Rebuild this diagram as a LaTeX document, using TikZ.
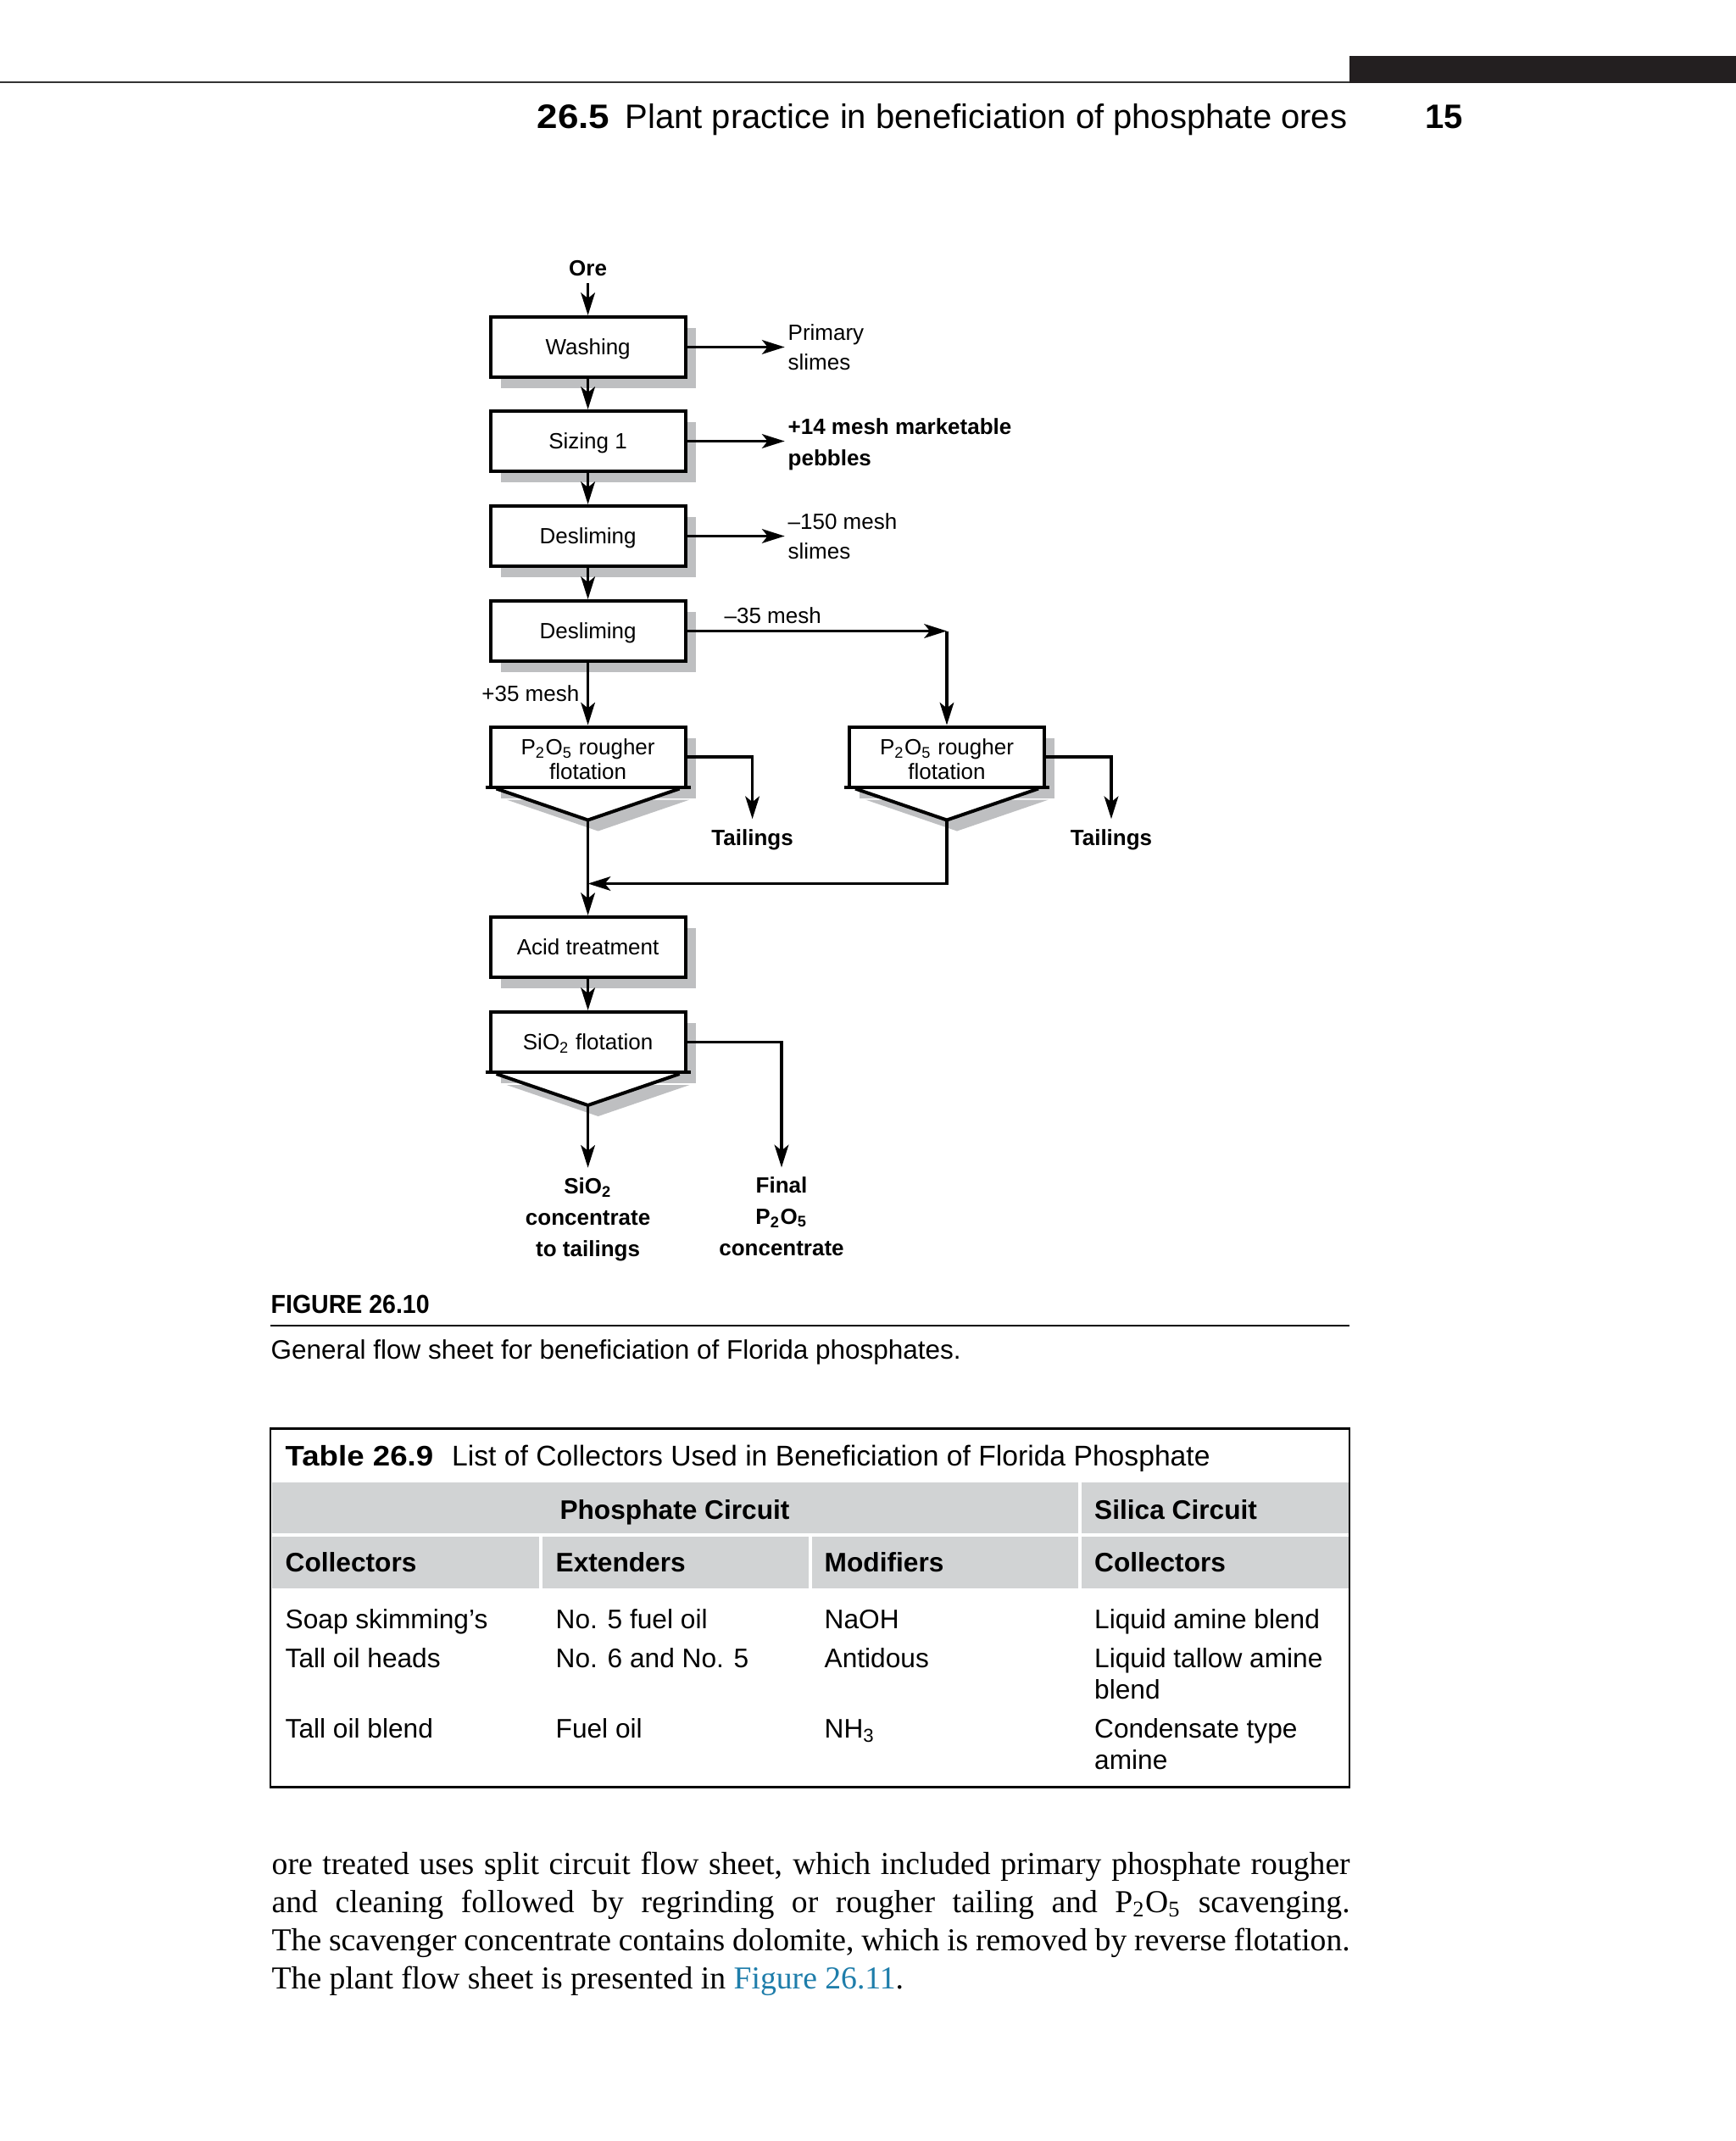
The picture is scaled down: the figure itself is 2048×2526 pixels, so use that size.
\documentclass[tikz,border=0pt]{standalone}
\usepackage{fontspec}
\setmainfont{Liberation Serif}
\setsansfont{Liberation Sans}
\newfontfamily\widesans[FakeStretch=1.1]{Liberation Sans}
\newfontfamily\condsans[FakeStretch=0.93]{Liberation Sans}
\usetikzlibrary{arrows.meta,shadows}

\definecolor{shadowgray}{RGB}{190,191,193}
\definecolor{cellgray}{RGB}{209,211,212}
\definecolor{barblack}{RGB}{35,31,32}
\definecolor{figblue}{RGB}{30,125,170}

\tikzset{%
  castshadow/.style = {drop shadow={shadow xshift=3.6pt, shadow yshift=-3.9pt,%
                       fill=shadowgray, opacity=1}},%
  unit/.style       = {draw, line width=1.2pt, fill=white, castshadow,%
                       minimum width=69pt, minimum height=21.3pt, inner sep=0pt,%
                       text depth=0pt, align=center,%
                       font=\sffamily\fontsize{7.8}{8.7}\selectfont},%
  flowline/.style   = {->, line width=1pt},%
  lbl/.style        = {inner sep=0pt, align=left,%
                       font=\sffamily\fontsize{7.8}{10.5}\selectfont},%
  blbl/.style       = {inner sep=0pt, align=center,%
                       font=\sffamily\bfseries\fontsize{7.8}{11}\selectfont},%
  cell/.style       = {inner sep=0pt, align=left,%
                       font=\sffamily\fontsize{9.5}{11.1}\selectfont},%
  headcell/.style   = {inner sep=0pt,%
                       font=\sffamily\bfseries\fontsize{9.5}{11.1}\selectfont},%
}

\begin{document}
\begin{tikzpicture}[x=0.3pt, y=-0.3pt, >={Stealth[length=8pt, width=5pt, inset=2pt]}]
\fill[white] (0,0) rectangle (2048,2526);
\useasboundingbox (0,0) rectangle (2048,2526);

% en-tete
\fill[barblack] (1592,66) rectangle (2048,98);
\draw[line width=0.6pt, black!80] (0,97) -- (1592,97);
\node[anchor=base west, inner sep=0pt,%
      font=\widesans\bfseries\fontsize{12}{14}\selectfont] (secnum) at (633,151.7) {26.5};
\node[anchor=base east, inner sep=0pt,%
      font=\sffamily\fontsize{12}{14}\selectfont] (sectitle) at (1590,151.7)%
      {Plant practice in beneficiation of phosphate ores};
\node[anchor=base west, inner sep=0pt,%
      font=\sffamily\bfseries\fontsize{12}{14}\selectfont] (pagenum) at (1681,151.7) {15};

% les boites
\node[blbl, anchor=base] (ore) at (693.6,325.6) {Ore};
\node[unit] (wash)   at (693.6, 409.5) {Washing};
\node[unit] (size)   at (693.6, 520.5) {Sizing 1};
\node[unit] (desl1)  at (693.6, 632.5) {Desliming};
\node[unit] (desl2)  at (693.6, 744.5) {Desliming};
\node[unit, text height=16.1pt] (roug1) at (693.6, 893) {P\textsubscript{2}O\textsubscript{5} rougher\\flotation};
\node[unit, text height=16.1pt] (roug2) at (1117, 893)  {P\textsubscript{2}O\textsubscript{5} rougher\\flotation};
\node[unit] (acid)   at (693.6,1117.5) {Acid treatment};
\node[unit] (silica) at (693.6,1229.5) {SiO\textsubscript{2} flotation};

% les cones
\coordinate (r1tip) at ([yshift=-11.1pt]roug1.south);
\coordinate (r2tip) at ([yshift=-11.1pt]roug2.south);
\coordinate (s3tip) at ([yshift=-11.1pt]silica.south);

\fill[white, castshadow] ([xshift=2.7pt]roug1.south west) -- (r1tip) -- ([xshift=-2.7pt]roug1.south east) -- cycle;
\draw[line width=1.2pt] ([xshift=2.7pt]roug1.south west) -- (r1tip) -- ([xshift=-2.7pt]roug1.south east);
\draw[line width=1.2pt] ([shift={(-1.2pt,0.6pt)}]roug1.south west) -- ([shift={(1.2pt,0.6pt)}]roug1.south east);

\fill[white, castshadow] ([xshift=2.7pt]roug2.south west) -- (r2tip) -- ([xshift=-2.7pt]roug2.south east) -- cycle;
\draw[line width=1.2pt] ([xshift=2.7pt]roug2.south west) -- (r2tip) -- ([xshift=-2.7pt]roug2.south east);
\draw[line width=1.2pt] ([shift={(-1.2pt,0.6pt)}]roug2.south west) -- ([shift={(1.2pt,0.6pt)}]roug2.south east);

\fill[white, castshadow] ([xshift=2.7pt]silica.south west) -- (s3tip) -- ([xshift=-2.7pt]silica.south east) -- cycle;
\draw[line width=1.2pt] ([xshift=2.7pt]silica.south west) -- (s3tip) -- ([xshift=-2.7pt]silica.south east);
\draw[line width=1.2pt] ([shift={(-1.2pt,0.6pt)}]silica.south west) -- ([shift={(1.2pt,0.6pt)}]silica.south east);

% les produits
\node[lbl, anchor=north west] (slimes1) at (929,382.4) {Primary\\slimes};
\node[blbl, align=left, anchor=north west] (pebbles) at (929,493.4) {+14 mesh marketable\\pebbles};
\node[lbl, anchor=north west] (slimes2) at (929,605) {--150 mesh\\slimes};
\node[lbl, anchor=base west] (minus35) at (854,735) {--35 mesh};
\node[lbl, anchor=base east] (plus35) at (684,827) {+35 mesh};
\node[blbl, anchor=base] (tail1) at (887.6,997.7) {Tailings};
\node[blbl, anchor=base] (tail2) at (1311,997.7) {Tailings};
\node[blbl, anchor=north] (sioconc) at (693.6,1389.4) {SiO\textsubscript{2}\\concentrate\\to tailings};
\node[blbl, anchor=north] (finalconc) at (922,1388.4) {Final\\P\textsubscript{2}O\textsubscript{5}\\concentrate};

% les fleches
\draw[flowline, shorten <=2.2pt] (ore) -- (wash);
\draw[flowline] (wash) -- (size);
\draw[flowline] (size) -- (desl1);
\draw[flowline] (desl1) -- (desl2);
\draw[flowline] (desl2) -- (roug1);
\draw[flowline] (r1tip) -- (acid);
\draw[flowline] (acid) -- (silica);
\draw[flowline, shorten >=3.5pt] (s3tip) -- (sioconc.north);

\draw[flowline, shorten >=1pt] (wash.east) -- (wash.east -| slimes1.west);
\draw[flowline, shorten >=1pt] (size.east) -- (size.east -| pebbles.west);
\draw[flowline, shorten >=1pt] (desl1.east) -- (desl1.east -| slimes2.west);

\coordinate (bend35) at (desl2.east -| roug2.north);
\draw[flowline] (desl2.east) -- (bend35);
\draw[flowline] (bend35) -- (roug2.north);

\draw[flowline, shorten >=3.6pt] (roug1.east) -| (tail1.north);
\draw[flowline, shorten >=3.6pt] (roug2.east) -| (tail2.north);

\coordinate (r2low) at ([yshift=-22.5pt]r2tip);
\draw[flowline] (r2tip) -- (r2low) -- (r2low -| r1tip);

\draw[flowline, shorten >=3.3pt] (silica.east) -| (finalconc.north);

% la legende
\node[anchor=base west, inner sep=0pt,%
      font=\condsans\bfseries\fontsize{9.2}{10}\selectfont] (figlabel) at (319,1549) {FIGURE 26.10};
\draw[line width=0.6pt] (319,1564) -- (1592,1564);
\node[anchor=base west, inner sep=0pt,%
      font=\sffamily\fontsize{9.45}{11}\selectfont] (figcaption) at (319,1603)%
      {General flow sheet for beneficiation of Florida phosphates.};

% le tableau
\fill[cellgray] (320.5,1749) rectangle (1271.5,1809);
\fill[cellgray] (1275.5,1749) rectangle (1591,1809);
\fill[cellgray] (320.5,1813) rectangle (635.6,1873.5);
\fill[cellgray] (639.6,1813) rectangle (954,1873.5);
\fill[cellgray] (958,1813) rectangle (1271.5,1873.5);
\fill[cellgray] (1275.5,1813) rectangle (1591,1873.5);
\draw[line width=0.75pt] (319,1685.5) rectangle (1592,2108.7);

\node[anchor=base west, inner sep=0pt,%
      font=\widesans\bfseries\fontsize{10}{12}\selectfont] (tabnum) at (336,1729.5) {Table 26.9};
\node[anchor=base west, inner sep=0pt,%
      font=\sffamily\fontsize{10.1}{12}\selectfont] (tabtitle) at (532.5,1729.5)%
      {List of Collectors Used in Beneficiation of Florida Phosphate};

\node[headcell, anchor=base]      (phoscirc) at (796,1792.5)    {Phosphate Circuit};
\node[headcell, anchor=base west] (silcirc)  at (1290.5,1792.5) {Silica Circuit};
\node[headcell, anchor=base west] (colhead)  at (336,1854.8)    {Collectors};
\node[headcell, anchor=base west] (exthead)  at (655,1854.8)    {Extenders};
\node[headcell, anchor=base west] (modhead)  at (972,1854.8)    {Modifiers};
\node[headcell, anchor=base west] (silhead)  at (1290.5,1854.8) {Collectors};

\node[cell, anchor=base west]  (soap)     at (336,1921)      {Soap skimming’s};
\node[cell, anchor=base west]  (fuel5)    at (655,1921)      {No. 5 fuel oil};
\node[cell, anchor=base west]  (naoh)     at (972,1921)      {NaOH};
\node[cell, anchor=base west]  (liqamine) at (1290.5,1921)   {Liquid amine blend};
\node[cell, anchor=base west]  (heads)    at (336,1967)      {Tall oil heads};
\node[cell, anchor=base west]  (fuel65)   at (655,1967)      {No. 6 and No. 5};
\node[cell, anchor=base west]  (antid)    at (972,1967)      {Antidous};
\node[cell, anchor=north west] (tallow)   at (1290.5,1944.3) {Liquid tallow amine\\blend};
\node[cell, anchor=base west]  (blend)    at (336,2050)      {Tall oil blend};
\node[cell, anchor=base west]  (fueloil)  at (655,2050)      {Fuel oil};
\node[cell, anchor=base west]  (nhthree)  at (972,2050)      {NH\textsubscript{3}};
\node[cell, anchor=north west] (condens)  at (1290.5,2027.3) {Condensate type\\amine};

% le texte
\node[anchor=north west, inner sep=0pt, text width=381.6pt, align=justify,%
      font=\rmfamily\fontsize{11.3}{13.5}\selectfont] (bodytext) at (320,2184)%
{\tolerance=10000\hyphenpenalty=10000
ore treated uses split circuit flow sheet, which included primary phosphate rougher\linebreak
and cleaning followed by regrinding or rougher tailing and P\textsubscript{2}O\textsubscript{5} scavenging.\linebreak
The scavenger concentrate contains dolomite, which is removed by reverse flotation.\linebreak
The plant flow sheet is presented in \textcolor{figblue}{Figure 26.11}.};

\end{tikzpicture}
\end{document}
